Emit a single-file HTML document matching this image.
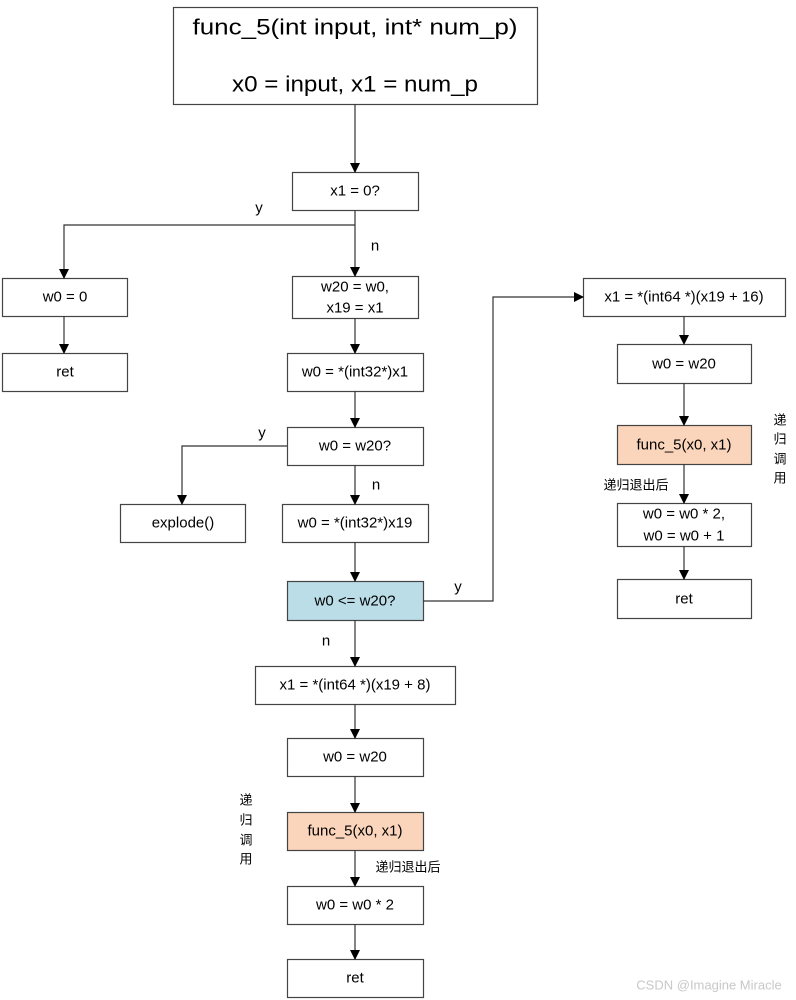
<!DOCTYPE html>
<html><head><meta charset="utf-8"><style>
html,body{margin:0;padding:0;background:#fff}
svg{display:block}
text{font-family:"Liberation Sans","Noto Sans CJK SC",sans-serif;font-size:15px;fill:#000;text-anchor:middle;dominant-baseline:central}
.cn{font-size:13px}
rect{stroke:#444;stroke-width:1.2;fill:#fff}
line,polyline{stroke:#333;stroke-width:1.2;fill:none}
</style></head><body>
<svg width="796" height="1000" viewBox="0 0 796 1000" xmlns="http://www.w3.org/2000/svg">
<defs><marker id="a" markerWidth="10" markerHeight="10" refX="9" refY="5" orient="auto" markerUnits="userSpaceOnUse"><path d="M0,0 L10,5 L0,10 z" fill="#000"/></marker></defs>

<rect x="173.5" y="7.5" width="364" height="97"/>
<text x="355" y="27" style="font-size:22px" textLength="325" lengthAdjust="spacingAndGlyphs">func_5(int input, int* num_p)</text>
<text x="355" y="84" style="font-size:22px" textLength="246" lengthAdjust="spacingAndGlyphs">x0 = input, x1 = num_p</text>

<rect x="292.5" y="172.5" width="126" height="38"/><text x="355" y="191">x1 = 0?</text>
<rect x="2.5" y="278.5" width="125" height="38"/><text x="65" y="297">w0 = 0</text>
<rect x="2.5" y="353.5" width="125" height="38"/><text x="65" y="372">ret</text>
<rect x="292.5" y="276.5" width="126" height="42"/><text x="355" y="287">w20 = w0,</text><text x="355" y="308">x19 = x1</text>
<rect x="287.5" y="353.5" width="136" height="38"/><text x="355" y="372">w0 = *(int32*)x1</text>
<rect x="287.5" y="427.5" width="136" height="38"/><text x="355" y="446">w0 = w20?</text>
<rect x="120.5" y="504.5" width="125" height="38"/><text x="183" y="523">explode()</text>
<rect x="282.5" y="504.5" width="146" height="38"/><text x="355" y="523">w0 = *(int32*)x19</text>
<rect x="287.5" y="581.5" width="136" height="39" style="fill:#badde8"/><text x="355" y="601">w0 &lt;= w20?</text>
<rect x="255.5" y="666.5" width="200" height="38"/><text x="355" y="685">x1 = *(int64 *)(x19 + 8)</text>
<rect x="287.5" y="738.5" width="136" height="38"/><text x="355" y="757">w0 = w20</text>
<rect x="287.5" y="812.5" width="136" height="38" style="fill:#fbd5bb"/><text x="355" y="831">func_5(x0, x1)</text>
<rect x="287.5" y="886.5" width="136" height="38"/><text x="355" y="905">w0 = w0 * 2</text>
<rect x="287.5" y="959.5" width="136" height="38"/><text x="355" y="978">ret</text>

<rect x="583.5" y="278.5" width="202" height="38"/><text x="684" y="297">x1 = *(int64 *)(x19 + 16)</text>
<rect x="617.5" y="344.5" width="134" height="39"/><text x="684" y="364">w0 = w20</text>
<rect x="617.5" y="425.5" width="134" height="39" style="fill:#fbd5bb"/><text x="684" y="445">func_5(x0, x1)</text>
<rect x="617.5" y="503.5" width="134" height="43"/><text x="684" y="514">w0 = w0 * 2,</text><text x="684" y="536">w0 = w0 + 1</text>
<rect x="617.5" y="579.5" width="134" height="39"/><text x="684" y="599">ret</text>

<line x1="355" y1="104" x2="355" y2="172" marker-end="url(#a)"/>
<line x1="355" y1="210" x2="355" y2="276" marker-end="url(#a)"/>
<polyline points="355,225 64,225 64,278" marker-end="url(#a)"/>
<line x1="64" y1="316" x2="64" y2="353" marker-end="url(#a)"/>
<line x1="355" y1="318" x2="355" y2="353" marker-end="url(#a)"/>
<line x1="355" y1="391" x2="355" y2="427" marker-end="url(#a)"/>
<polyline points="287,446 182,446 182,504" marker-end="url(#a)"/>
<line x1="355" y1="465" x2="355" y2="504" marker-end="url(#a)"/>
<line x1="355" y1="542" x2="355" y2="581" marker-end="url(#a)"/>
<polyline points="423,601 493,601 493,297 583,297" marker-end="url(#a)"/>
<line x1="355" y1="620" x2="355" y2="666" marker-end="url(#a)"/>
<line x1="355" y1="704" x2="355" y2="738" marker-end="url(#a)"/>
<line x1="355" y1="776" x2="355" y2="812" marker-end="url(#a)"/>
<line x1="355" y1="850" x2="355" y2="886" marker-end="url(#a)"/>
<line x1="355" y1="924" x2="355" y2="959" marker-end="url(#a)"/>
<line x1="684" y1="316" x2="684" y2="344" marker-end="url(#a)"/>
<line x1="684" y1="383" x2="684" y2="425" marker-end="url(#a)"/>
<line x1="684" y1="464" x2="684" y2="503" marker-end="url(#a)"/>
<line x1="684" y1="546" x2="684" y2="579" marker-end="url(#a)"/>

<text x="259" y="208">y</text>
<text x="375" y="246">n</text>
<text x="262" y="433">y</text>
<text x="376" y="485">n</text>
<text x="458" y="587">y</text>
<text x="326" y="641">n</text>

<text class="cn" x="780" y="420">递</text><text class="cn" x="780" y="439">归</text><text class="cn" x="780" y="459">调</text><text class="cn" x="780" y="478">用</text>
<text class="cn" x="636" y="485">递归退出后</text>
<text class="cn" x="246" y="800">递</text><text class="cn" x="246" y="820">归</text><text class="cn" x="246" y="840">调</text><text class="cn" x="246" y="859">用</text>
<text class="cn" x="408" y="867">递归退出后</text>

<text x="709" y="985" style="font-size:13px;fill:#c8c8c8">CSDN @Imagine Miracle</text>
</svg>
</body></html>
